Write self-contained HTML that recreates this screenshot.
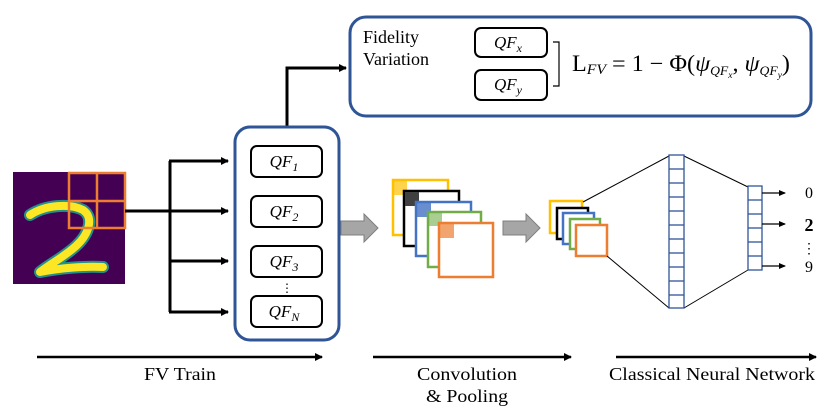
<!DOCTYPE html>
<html><head><meta charset="utf-8"><style>
html,body{margin:0;padding:0;background:#fff;}
svg{display:block}
.t{font-family:"Liberation Serif",serif;}
.m{font-family:"Liberation Serif",serif;font-style:italic;}
</style></head><body>
<svg width="832" height="415" viewBox="0 0 832 415" xmlns="http://www.w3.org/2000/svg">
<defs>
<marker id="ah" markerWidth="8" markerHeight="8" refX="7" refY="4" orient="auto" markerUnits="userSpaceOnUse"><path d="M0,0 L8,4 L0,8 z" fill="#000"/></marker>
<marker id="as" markerWidth="7" markerHeight="6" refX="6" refY="3" orient="auto" markerUnits="userSpaceOnUse"><path d="M0,0 L7,3 L0,6 z" fill="#000"/></marker>
</defs>
<!-- MNIST image -->
<rect x="13" y="172" width="112" height="112" fill="#440154"/>
<path d="M30,215 C45,205 70,203 83,210 C95,218 88,235 76,246 C64,257 50,264 40,272 C60,268 85,266 103,267" fill="none" stroke="#21918c" stroke-width="12" stroke-linecap="round" stroke-linejoin="round"/>
<path d="M30,215 C45,205 70,203 83,210 C95,218 88,235 76,246 C64,257 50,264 40,272 C60,268 85,266 103,267" fill="none" stroke="#fde725" stroke-width="8" stroke-linecap="round" stroke-linejoin="round"/>
<g fill="none" stroke="#ed7d31" stroke-width="2.5">
<rect x="69" y="173" width="56" height="55"/>
<line x1="97" y1="173" x2="97" y2="228"/>
<line x1="69" y1="201" x2="125" y2="201"/>
</g>
<!-- branching arrows -->
<g stroke="#000" stroke-width="3" fill="none">
<line x1="125" y1="211" x2="170" y2="211"/>
<line x1="170" y1="161" x2="170" y2="312"/>
<line x1="169" y1="161" x2="228" y2="161" marker-end="url(#ah)"/>
<line x1="170" y1="211" x2="228" y2="211" marker-end="url(#ah)"/>
<line x1="169" y1="261" x2="228" y2="261" marker-end="url(#ah)"/>
<line x1="169" y1="312" x2="228" y2="312" marker-end="url(#ah)"/>
<polyline points="287,127 287,68 346,68" marker-end="url(#ah)"/>
</g>
<!-- QF container -->
<rect x="235" y="127" width="104" height="213" rx="15" fill="#fff" stroke="#2f5597" stroke-width="3"/>
<g fill="#fff" stroke="#000" stroke-width="2">
<rect x="251" y="146" width="71" height="31" rx="6"/>
<rect x="251" y="196" width="71" height="31" rx="6"/>
<rect x="251" y="246" width="71" height="31" rx="6"/>
<rect x="251" y="296" width="71" height="31" rx="6"/>
</g>
<g class="m" font-size="17" text-anchor="middle">
<text x="284" y="167">QF<tspan font-size="12" dy="4">1</tspan></text>
<text x="284" y="217">QF<tspan font-size="12" dy="4">2</tspan></text>
<text x="284" y="267">QF<tspan font-size="12" dy="4">3</tspan></text>
<text x="284" y="317">QF<tspan font-size="12" dy="4">N</tspan></text>
</g>
<text x="287" y="292" font-size="12" text-anchor="middle" class="t">⋮</text>
<!-- FV box -->
<rect x="350" y="17" width="461" height="99" rx="16" fill="#fff" stroke="#2f5597" stroke-width="3"/>
<text x="363" y="43" font-size="18" class="t">Fidelity</text>
<text x="363" y="65" font-size="18" class="t">Variation</text>
<g fill="#fff" stroke="#000" stroke-width="2">
<rect x="475" y="28" width="72" height="29" rx="6"/>
<rect x="475" y="70" width="72" height="30" rx="6"/>
</g>
<text x="508" y="48" font-size="17" class="m" text-anchor="middle">QF<tspan font-size="12" dy="4">x</tspan></text>
<text x="508" y="90" font-size="17" class="m" text-anchor="middle">QF<tspan font-size="12" dy="4">y</tspan></text>
<polyline points="553,42 559,42 559,86 553,86" fill="none" stroke="#000" stroke-width="1.2"/>
<text x="572" y="71" font-size="23" class="t" textLength="218" lengthAdjust="spacingAndGlyphs">L<tspan class="m" font-size="15" dy="3">FV</tspan><tspan dy="-3"> = 1 − Φ(</tspan><tspan class="m">ψ</tspan><tspan class="m" font-size="13" dy="4">QF</tspan><tspan class="m" font-size="9" dy="3">x</tspan><tspan dy="-7">, </tspan><tspan class="m">ψ</tspan><tspan class="m" font-size="13" dy="4">QF</tspan><tspan class="m" font-size="9" dy="3">y</tspan><tspan dy="-7">)</tspan></text>
<!-- gray arrows -->
<g fill="#a6a6a6" stroke="#7f7f7f" stroke-width="1">
<polygon points="341,221 364,221 364,214 378,228 364,242 364,235 341,235"/>
<polygon points="503,221 526,221 526,214 540,228 526,242 526,235 503,235"/>
</g>
<!-- conv stack -->
<g stroke-width="2.5">
<rect x="393" y="180" width="55" height="55" fill="#fff" stroke="#ffc000"/>
<rect x="393" y="181" width="14" height="14" fill="#ffc000" opacity="0.7" stroke="none"/>
<rect x="404" y="191" width="55" height="55" fill="#fff" stroke="#000"/>
<rect x="405" y="192" width="14" height="14" fill="#404040" stroke="none"/>
<rect x="416" y="202" width="55" height="54" fill="#fff" stroke="#4472c4"/>
<rect x="417" y="203" width="14" height="14" fill="#4472c4" opacity="0.8" stroke="none"/>
<rect x="428" y="212" width="53" height="55" fill="#fff" stroke="#70ad47"/>
<rect x="429" y="213" width="13" height="13" fill="#70ad47" opacity="0.6" stroke="none"/>
<rect x="439" y="223" width="54" height="54" fill="#fff" stroke="#ed7d31"/>
<rect x="440" y="224" width="14" height="14" fill="#ed7d31" opacity="0.7" stroke="none"/>
</g>
<!-- small stack -->
<g stroke-width="2.5" fill="#fff">
<rect x="550" y="201" width="32" height="32" stroke="#ffc000"/>
<rect x="557" y="208" width="31" height="31" stroke="#000"/>
<rect x="563" y="213" width="31" height="31" stroke="#4472c4"/>
<rect x="570" y="219" width="30" height="30" stroke="#70ad47"/>
<rect x="576" y="225" width="31" height="31" stroke="#ed7d31"/>
</g>
<!-- FC lines -->
<g stroke="#000" stroke-width="1">
<line x1="583" y1="202" x2="669" y2="156"/>
<line x1="607" y1="256" x2="669" y2="308"/>
<line x1="684" y1="156" x2="748" y2="187"/>
<line x1="684" y1="308" x2="748" y2="270"/>
</g>
<g fill="#fff" stroke="#2f5597" stroke-width="1.3">
<rect x="669" y="155" width="15" height="153"/>
<rect x="748" y="186" width="14" height="84"/>
</g>
<g stroke="#2f5597" stroke-width="1.3">
<line x1="669" y1="169" x2="684" y2="169"/><line x1="669" y1="183" x2="684" y2="183"/><line x1="669" y1="197" x2="684" y2="197"/><line x1="669" y1="211" x2="684" y2="211"/><line x1="669" y1="225" x2="684" y2="225"/><line x1="669" y1="239" x2="684" y2="239"/><line x1="669" y1="253" x2="684" y2="253"/><line x1="669" y1="267" x2="684" y2="267"/><line x1="669" y1="281" x2="684" y2="281"/><line x1="669" y1="295" x2="684" y2="295"/>
<line x1="748" y1="200" x2="762" y2="200"/><line x1="748" y1="214" x2="762" y2="214"/><line x1="748" y1="228" x2="762" y2="228"/><line x1="748" y1="242" x2="762" y2="242"/><line x1="748" y1="256" x2="762" y2="256"/>
</g>
<g stroke="#000" stroke-width="1.3">
<line x1="762" y1="193" x2="785" y2="193" marker-end="url(#as)"/>
<line x1="762" y1="224" x2="785" y2="224" marker-end="url(#as)"/>
<line x1="762" y1="266" x2="785" y2="266" marker-end="url(#as)"/>
</g>
<g class="t" font-size="16" text-anchor="middle">
<text x="809" y="198">0</text>
<text x="809" y="231" font-weight="bold" font-size="18">2</text>
<text x="809" y="253" font-size="14">⋮</text>
<text x="809" y="272">9</text>
</g>
<!-- bottom arrows -->
<g stroke="#000" stroke-width="2.5">
<line x1="37" y1="357" x2="322" y2="357" marker-end="url(#ah)"/>
<line x1="373" y1="357" x2="571" y2="357" marker-end="url(#ah)"/>
<line x1="616" y1="357" x2="816" y2="357" marker-end="url(#ah)"/>
</g>
<g font-family="Liberation Serif, serif" font-size="18" text-anchor="middle">
<text x="180" y="380" textLength="72" lengthAdjust="spacingAndGlyphs">FV Train</text>
<text x="467" y="380" textLength="100" lengthAdjust="spacingAndGlyphs">Convolution</text>
<text x="467" y="402" textLength="82" lengthAdjust="spacingAndGlyphs">&amp; Pooling</text>
<text x="712" y="380" textLength="206" lengthAdjust="spacingAndGlyphs">Classical Neural Network</text>
</g>
</svg>
</body></html>
